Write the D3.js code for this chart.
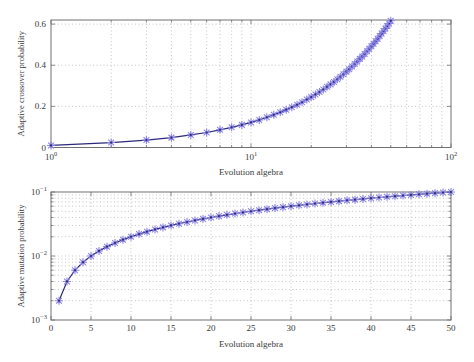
<!DOCTYPE html>
<html>
<head>
<meta charset="utf-8">
<script src="https://cdn.jsdelivr.net/npm/d3@7"></script>
<style>
  body { margin: 0; background: #fff; }
  text { font-family: "Liberation Serif", "DejaVu Serif", serif; fill: #3a3a3a; }
</style>
</head>
<body>
<script>
///////////////////   Data   /////////////////

var generations = d3.range(1, 51);

// top panel
var crossoverProb = [
  0.010, 0.024, 0.036, 0.048, 0.061, 0.073, 0.086, 0.098, 0.110, 0.122,
  0.134, 0.147, 0.159, 0.171, 0.184, 0.196, 0.208, 0.220, 0.233, 0.245,
  0.258, 0.270, 0.282, 0.295, 0.307, 0.319, 0.332, 0.344, 0.356, 0.369,
  0.381, 0.394, 0.406, 0.418, 0.431, 0.443, 0.455, 0.468, 0.480, 0.492,
  0.505, 0.517, 0.529, 0.542, 0.554, 0.566, 0.579, 0.591, 0.603, 0.616
];

// bottom panel
var mutationProb = [
  0.002, 0.004, 0.006, 0.008, 0.010, 0.012, 0.014, 0.016, 0.018, 0.020,
  0.022, 0.024, 0.026, 0.028, 0.030, 0.032, 0.034, 0.036, 0.038, 0.040,
  0.042, 0.044, 0.046, 0.048, 0.050, 0.052, 0.054, 0.056, 0.058, 0.060,
  0.062, 0.064, 0.066, 0.068, 0.070, 0.072, 0.074, 0.076, 0.078, 0.080,
  0.082, 0.084, 0.086, 0.088, 0.090, 0.092, 0.094, 0.096, 0.098, 0.100
];

var topXTicks = [1, 10, 100],
    topYTicks = [0, 0.2, 0.4, 0.6],
    botXTicks = [0, 5, 10, 15, 20, 25, 30, 35, 40, 45, 50],
    botYTicks = [0.001, 0.01, 0.1];

///////////////////   Parameters   /////////////////

var W = 474, H = 362,
    left = 51, right = 451,
    lineColor = "#2b2a7a",
    markColor = "#8d86e6",
    axisColor = "#707070",
    gridColor = "#b8b8b8",
    fontSize = 9;

var svg = d3.select("body").append("svg")
    .attr("width", W).attr("height", H);

// log minor positions 1..9 x 10^k between lo and hi
function logMinors(lo, hi) {
  var out = [];
  for (var e = Math.log10(lo); e < Math.log10(hi); e++)
    for (var m = 1; m < 10; m++) out.push(m * Math.pow(10, e));
  out.push(hi);
  return out;
}

function powLabel(sel, exp) {
  sel.append("tspan").text("10");
  sel.append("tspan").attr("dy", -4).attr("font-size", fontSize - 2.5).text(exp);
}

function asterisk(g, x, y) {
  var r = 4, d = r * 0.72;
  var p = "M" + (x - r) + "," + y + "h" + 2 * r +
          "M" + x + "," + (y - r) + "v" + 2 * r +
          "M" + (x - d) + "," + (y - d) + "l" + 2 * d + "," + 2 * d +
          "M" + (x - d) + "," + (y + d) + "l" + 2 * d + "," + (-2 * d);
  g.append("path").attr("d", p).attr("stroke", markColor).attr("stroke-width", 1.1).attr("fill", "none");
  g.append("circle").attr("cx", x).attr("cy", y).attr("r", 1.1).attr("fill", lineColor);
}

function panel(opt) {
  var g = svg.append("g");
  var x = opt.x, y = opt.y, top = opt.top, bottom = opt.bottom;

  // grid
  g.selectAll(".gx").data(opt.gridX).enter().append("line")
    .attr("x1", d => x(d)).attr("x2", d => x(d))
    .attr("y1", top).attr("y2", bottom)
    .attr("stroke", gridColor).attr("stroke-width", 0.8).attr("stroke-dasharray", "1,2.5");
  g.selectAll(".gy").data(opt.gridY).enter().append("line")
    .attr("x1", left).attr("x2", right)
    .attr("y1", d => y(d)).attr("y2", d => y(d))
    .attr("stroke", gridColor).attr("stroke-width", 0.8).attr("stroke-dasharray", "1,2.5");

  // ticks inside, all four sides
  var tk = g.append("g").attr("stroke", axisColor).attr("stroke-width", 0.8);
  opt.tickX.forEach(function (t) {
    var len = t.major ? 4 : 2.5;
    tk.append("line").attr("x1", x(t.v)).attr("x2", x(t.v)).attr("y1", bottom).attr("y2", bottom - len);
    tk.append("line").attr("x1", x(t.v)).attr("x2", x(t.v)).attr("y1", top).attr("y2", top + len);
  });
  opt.tickY.forEach(function (t) {
    var len = t.major ? 4 : 2.5;
    tk.append("line").attr("x1", left).attr("x2", left + len).attr("y1", y(t.v)).attr("y2", y(t.v));
    tk.append("line").attr("x1", right).attr("x2", right - len).attr("y1", y(t.v)).attr("y2", y(t.v));
  });

  g.append("rect").attr("x", left).attr("y", top)
    .attr("width", right - left).attr("height", bottom - top)
    .attr("fill", "none").attr("stroke", axisColor).attr("stroke-width", 1);

  // series
  var line = d3.line().x(d => x(d[0])).y(d => y(d[1]));
  var pts = d3.zip(generations, opt.values);
  g.append("path").datum(pts).attr("d", line)
    .attr("fill", "none").attr("stroke", lineColor).attr("stroke-width", 1.2);
  var mk = g.append("g");
  pts.forEach(function (p) { asterisk(mk, x(p[0]), y(p[1])); });

  // labels
  g.append("text").attr("x", (left + right) / 2).attr("y", bottom + 27)
    .attr("text-anchor", "middle").attr("font-size", fontSize).text("Evolution algebra");
  g.append("text")
    .attr("transform", "translate(24," + (top + bottom) / 2 + ") rotate(-90)")
    .attr("text-anchor", "middle").attr("font-size", fontSize - 0.5).text(opt.ylabel);
  return g;
}

////////////////	Top panel   //////////////

var xTop = d3.scaleLog().domain([1, 100]).range([left, right]),
    yTop = d3.scaleLinear().domain([0, 0.62]).range([147.5, 20]);

var gTop = panel({
  x: xTop, y: yTop, top: 20, bottom: 147.5,
  values: crossoverProb,
  gridX: logMinors(1, 100).filter(d => d > 1 && d < 100),
  gridY: topYTicks.filter(d => d > 0),
  tickX: logMinors(1, 100).map(v => ({ v: v, major: topXTicks.indexOf(v) >= 0 })),
  tickY: topYTicks.map(v => ({ v: v, major: true })),
  ylabel: "Adaptive crossover probability"
});

topYTicks.forEach(function (v) {
  gTop.append("text").attr("x", left - 5).attr("y", yTop(v) + 3)
    .attr("text-anchor", "end").attr("font-size", fontSize).text(v === 0 ? "0" : v.toFixed(1));
});
topXTicks.forEach(function (v) {
  var t = gTop.append("text").attr("x", xTop(v)).attr("y", 160)
    .attr("text-anchor", "middle").attr("font-size", fontSize);
  powLabel(t, String(Math.round(Math.log10(v))));
});

////////////////	Bottom panel   //////////////

var xBot = d3.scaleLinear().domain([0, 50]).range([left, right]),
    yBot = d3.scaleLog().domain([0.001, 0.1]).range([320, 192]);

var gBot = panel({
  x: xBot, y: yBot, top: 192, bottom: 320,
  values: mutationProb,
  gridX: botXTicks.filter(d => d > 0 && d < 50),
  gridY: logMinors(0.001, 0.1).filter(d => d > 0.0011 && d < 0.099),
  tickX: botXTicks.map(v => ({ v: v, major: true })),
  tickY: logMinors(0.001, 0.1).map(v => ({ v: v, major: botYTicks.some(b => Math.abs(b - v) < 1e-9) })),
  ylabel: "Adaptive mutation probability"
});

botXTicks.forEach(function (v) {
  gBot.append("text").attr("x", xBot(v)).attr("y", 331)
    .attr("text-anchor", "middle").attr("font-size", fontSize).text(v);
});
botYTicks.forEach(function (v) {
  var t = gBot.append("text").attr("x", left - 4).attr("y", yBot(v) + 3)
    .attr("text-anchor", "end").attr("font-size", fontSize);
  powLabel(t, "\u2212" + Math.round(-Math.log10(v)));
});
</script>
</body>
</html>
